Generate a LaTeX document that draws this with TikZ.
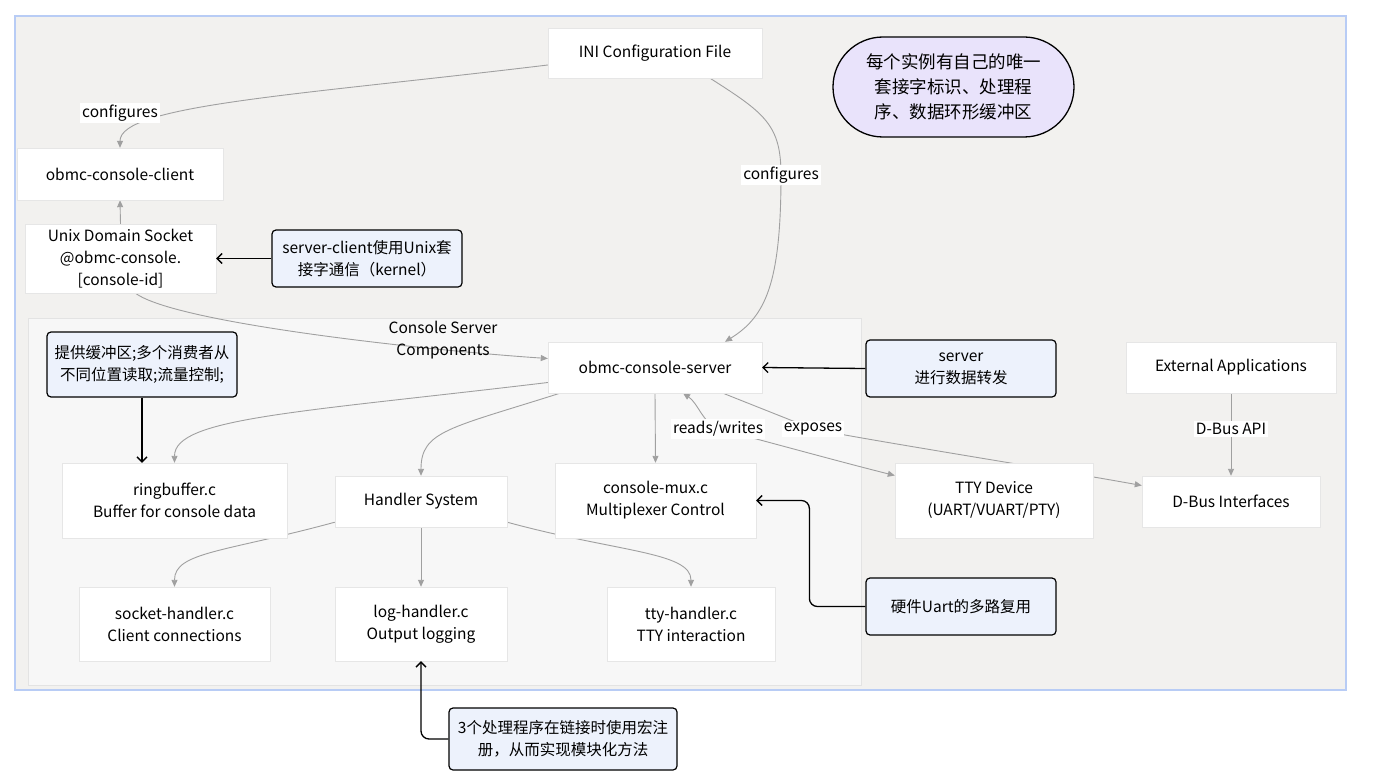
\documentclass[tikz,border=0pt]{standalone}
\usepackage{fontspec}
\setmainfont{Noto Sans CJK SC}
\usepackage{tikz}
\usetikzlibrary{arrows.meta,positioning,shapes.misc,backgrounds}
\definecolor{canvas}{HTML}{F2F1EF}
\definecolor{frame}{HTML}{B8CCF5}
\definecolor{group}{HTML}{F7F7F7}
\definecolor{groupline}{HTML}{E3E3E3}
\definecolor{boxline}{HTML}{E6E6E6}
\definecolor{notefill}{HTML}{EDF2FC}
\definecolor{idfill}{HTML}{E9E3FB}
\definecolor{wire}{HTML}{A0A0A0}
\pgfdeclarelayer{edges}
\pgfsetlayers{background,edges,main}

\begin{document}
\begin{tikzpicture}[x=1pt,y=-1pt,
  box/.style={draw=boxline,fill=white,align=center,inner sep=0pt},
  note/.style={draw=black,line width=1.2pt,rounded corners=4pt,fill=notefill,
    align=center,inner sep=0pt},
  lbl/.style={fill=white,inner sep=2pt},
  flow/.style={-{Triangle[length=7pt,width=6pt]},line width=0.9pt,draw=wire},
  both/.style={{Triangle[length=7pt,width=6pt]}-{Triangle[length=7pt,width=6pt]},
    line width=0.9pt,draw=wire},
  hint/.style={-{Straight Barb[length=5pt,width=10pt]},line width=1.3pt},
  every node/.style={font=\fontsize{15.5}{22}\selectfont}]
\useasboundingbox (0,0) rectangle (1382,781);

% frames
\begin{pgfonlayer}{background}
\fill[white] (0,0) rectangle (1382,781);
\draw[frame,line width=1.5pt,fill=canvas] (15,16) rectangle (1346,690);
\draw[groupline,fill=group] (28,318) rectangle (861,685);
\end{pgfonlayer}
\node[align=center] (grouptitle) at (443,340) {Console Server\\Components};

% modules
\node[box,minimum width=214pt,minimum height=50pt] (ini) at (655,53) {INI Configuration File};
\node[box,minimum width=206pt,minimum height=52pt] (client) at (120,174) {obmc-console-client};
\node[box,minimum width=191pt,minimum height=69pt] (unix) at (120.5,258.5)
  {Unix Domain Socket\\@obmc-console.\\{}[console-id]};
\node[box,minimum width=214pt,minimum height=51pt] (server) at (655,367.5) {obmc-console-server};
\node[box,minimum width=210pt,minimum height=51pt] (extapp) at (1231,367.5) {External Applications};
\node[box,minimum width=225pt,minimum height=75pt] (ring) at (174.5,500.5)
  {ringbuffer.c\\Buffer for console data};
\node[box,minimum width=172pt,minimum height=51pt] (hsys) at (421,501.5) {Handler System};
\node[box,minimum width=201pt,minimum height=75pt] (mux) at (655.5,500.5)
  {console-mux.c\\Multiplexer Control};
\node[box,minimum width=198pt,minimum height=75pt] (tty) at (994,500.5)
  {TTY Device\\(UART/VUART/PTY)};
\node[box,minimum width=178pt,minimum height=51pt] (dbus) at (1231,501.5) {D-Bus Interfaces};
\node[box,minimum width=191pt,minimum height=74pt] (sock) at (174.5,624)
  {socket-handler.c\\Client connections};
\node[box,minimum width=172pt,minimum height=74pt] (log) at (421,624)
  {log-handler.c\\Output logging};
\node[box,minimum width=168pt,minimum height=74pt] (ttyh) at (691,624)
  {tty-handler.c\\TTY interaction};

% notes
\node[draw=black,line width=1.3pt,fill=idfill,rounded rectangle,align=center,
  minimum width=241pt,minimum height=100pt,inner sep=0pt,
  font=\fontsize{17.5}{25}\selectfont] (idnote) at (953.5,87)
  {每个实例有自己的唯一\\套接字标识、处理程\\序、数据环形缓冲区};
\node[note,minimum width=190pt,minimum height=57pt] (n1) at (367,258.5)
  {server-client使用Unix套\\接字通信（kernel）};
\node[note,minimum width=190pt,minimum height=65pt] (n2) at (142,364.5)
  {提供缓冲区;多个消费者从\\不同位置读取;流量控制;};
\node[note,minimum width=190pt,minimum height=57pt] (n3) at (961,368.5)
  {server\\进行数据转发};
\node[note,minimum width=190pt,minimum height=57pt] (n4) at (961,606.5)
  {硬件Uart的多路复用};
\node[note,minimum width=228pt,minimum height=62pt] (n5) at (563,739)
  {3个处理程序在链接时使用宏注\\册，从而实现模块化方法};

% edge labels
\node[lbl] (cfgA) at (120,113) {configures};
\node[lbl] (cfgB) at (781,175) {configures};
\node[lbl] (rw) at (718,429) {reads/writes};
\node[lbl] (exp) at (813,429) {exposes};
\node[lbl] (dapi) at (1231,429) {D-Bus API};

\begin{pgfonlayer}{edges}
\draw[flow] ([yshift=-12pt]ini.west) .. controls (300,95) and (120,105) .. (client.north);
\draw[flow] ([xshift=55pt]ini.south) .. controls +(55,35) and +(0,-50) .. (cfgB.center)
  .. controls +(0,110) and +(40,-25) .. ([xshift=70pt]server.north);
\draw[flow] (unix.north) -- (client.south);
\draw[flow] ([xshift=15pt]unix.south) .. controls +(40,30) and +(-120,-8) .. ([yshift=9pt]server.west);
\draw[flow] ([yshift=-15pt]server.west) .. controls +(-250,30) and +(0,-45) .. (ring.north);
\draw[flow] ([xshift=-95pt]server.south) .. controls +(-110,35) and +(0,-45) .. (hsys.north);
\draw[flow] (server.south) -- (mux.north);
\draw[flow] ([yshift=5pt]hsys.south west) .. controls +(-110,30) and +(0,-35) .. (sock.north);
\draw[flow] (hsys.south) -- (log.north);
\draw[flow] ([yshift=5pt]hsys.south east) .. controls +(110,30) and +(0,-35) .. (ttyh.north);
\draw[both] ([xshift=28pt]server.south) .. controls +(15,10) and +(-15,-6) .. (rw.center)
  .. controls +(40,10) and +(-60,-15) .. ([yshift=25pt]tty.west);
\draw[flow] ([xshift=68pt]server.south) .. controls +(30,12) and +(-20,-8) .. (exp.center)
  .. controls +(60,12) and +(-100,-18) .. ([yshift=16pt]dbus.west);
\draw[flow] (extapp.south) -- (dbus.north);
\end{pgfonlayer}

% note pointers
\draw[hint] (n1.west) -- (unix.east);
\draw[hint] (n2.south) -- (n2.south |- ring.north);
\draw[hint] (n3.west) -- (server.east);
\draw[hint,rounded corners=8pt] (n4.west) -- ++(-56,0) |- (mux.east);
\draw[hint,rounded corners=8pt] (n5.west) -| (log.south);
\end{tikzpicture}
\end{document}
